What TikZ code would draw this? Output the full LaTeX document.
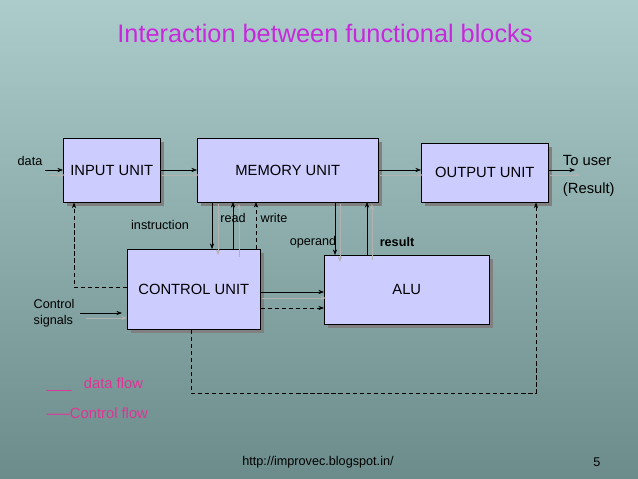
\documentclass[tikz,border=0pt]{standalone}
\usepackage{fontspec}
\setmainfont{Liberation Sans}
\usepackage{tikz}
\usetikzlibrary{arrows.meta,shadows}
\definecolor{bgtop}{RGB}{172,204,204}
\definecolor{bgbot}{RGB}{108,140,140}
\definecolor{boxfill}{RGB}{204,204,255}
\definecolor{titlecol}{RGB}{200,40,220}
\definecolor{legcol}{RGB}{225,50,150}
\tikzset{
  unit/.style={draw=black,fill=boxfill,inner sep=0pt,anchor=north west,
    copy shadow={shadow xshift=2.6pt,shadow yshift=-2.6pt,fill=black!50,draw=none}},
  flow/.style={-{Stealth[length=4pt,width=3pt]},black},
  ghost/.style={-{Stealth[length=4pt,width=3pt]},gray!60!white,line width=0.7pt},
  ctrl/.style={-{Stealth[length=4pt,width=3pt]},black,densely dashed},
  utext/.style={font=\fontsize{10.5}{12}\selectfont},
  lbl/.style={font=\fontsize{9}{11}\selectfont,inner sep=1pt}
}
\begin{document}
\begin{tikzpicture}[x=0.025cm,y=-0.025cm]
\shade[top color=bgtop,bottom color=bgbot] (0,0) rectangle (638,479);
\useasboundingbox (0,0) rectangle (638,479);
% title
\node[text=titlecol,font=\fontsize{18}{21}\selectfont] (title) at (325,33) {Interaction between functional blocks};
% units
\node[unit,minimum width=97*0.025cm,minimum height=64*0.025cm] (input) at (63,138) {};
\node[utext] at (input.center) {INPUT UNIT};
\node[unit,minimum width=181*0.025cm,minimum height=64*0.025cm] (memory) at (197,138) {};
\node[utext] at (memory.center) {MEMORY UNIT};
\node[unit,minimum width=127*0.025cm,minimum height=59*0.025cm] (output) at (421,143) {};
\node[utext] at (output.center) {OUTPUT UNIT};
\node[unit,minimum width=133*0.025cm,minimum height=80*0.025cm] (control) at (127,249) {};
\node[utext] at (control.center) {CONTROL UNIT};
\node[unit,minimum width=165*0.025cm,minimum height=69*0.025cm] (alu) at (324,255) {};
\node[utext] at (alu.center) {ALU};
% free ends
\coordinate (datain) at (45,170);
\coordinate (userout) at (575,170);
\coordinate (sigin) at (80,313);
% data flow
\draw[ghost] (49,175) -- (65,175);
\draw[flow] (datain) -- (input.west |- datain);
\draw[ghost] (162,175) -- (199,175);
\draw[flow] (input.east |- datain) -- (memory.west |- datain);
\draw[ghost] (380,175) -- (423,175);
\draw[flow] (memory.east |- datain) -- (output.west |- datain);
\draw[ghost] (550,175) -- (580,175);
\draw[flow] (output.east |- datain) -- (userout);
\draw[ghost] (218,204) -- (218,255);
\draw[flow] (212,202) -- (control.north -| 212,0);
\draw[ghost] (239,257) -- (239,204);
\draw[flow] (control.north -| 233,0) -- (233,202);
\draw[ctrl] (control.north -| 256,0) -- (256,202);
\draw[ghost] (340,204) -- (340,262);
\draw[flow] (335,202) -- (alu.north -| 335,0);
\draw[ghost] (372,260) -- (372,204);
\draw[flow] (alu.north -| 367,0) -- (367,202);
\draw[ghost] (262,298) -- (326,298);
\draw[flow] (control.east |- 0,292) -- (alu.west |- 0,292);
\draw[ctrl] (control.east |- 0,308) -- (alu.west |- 0,308);
\draw[ghost] (86,318) -- (127,318);
\draw[flow] (sigin) -- (122,313);
% control flow
\draw[ctrl] (control.west |- 0,287) -| (input.south -| 74,0);
\draw[ctrl] (control.south -| 191,0) |- (536,393) -- (output.south -| 536,0);
% labels
\node[lbl,anchor=south] at (30,167) {data};
\node[utext,anchor=west] at (558,160) {To user};
\node[utext,anchor=west] at (558,190) {(Result)};
\node[lbl] at (160,225) {instruction};
\node[lbl] at (233,218) {read};
\node[lbl] at (274,218) {write};
\node[lbl] at (313,242) {operand};
\node[lbl,font=\fontsize{9}{11}\selectfont\bfseries] at (397,242) {result};
\node[lbl,align=left,anchor=west] at (32,313) {Control\\signals};
\node[text=legcol,utext,anchor=west] at (42,385) {\_\_\_\ \ \ data flow};
\node[text=legcol,utext,anchor=west] at (42,413) {-----Control flow};
\node[lbl] at (318,462) {http://improvec.blogspot.in/};
\node[lbl] at (597,462) {5};
\end{tikzpicture}
\end{document}
